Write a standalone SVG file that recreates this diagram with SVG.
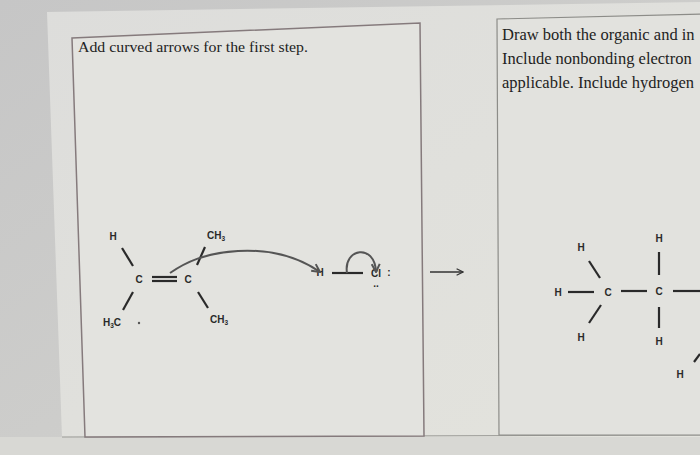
<svg xmlns="http://www.w3.org/2000/svg" width="700" height="455" viewBox="0 0 700 455">
<defs>
<linearGradient id="bg" x1="0" y1="0" x2="1" y2="1">
<stop offset="0" stop-color="#c6c6c6"/>
<stop offset="1" stop-color="#d4d4d0"/>
</linearGradient>
<linearGradient id="panel" x1="0" y1="0" x2="1" y2="1">
<stop offset="0" stop-color="#dddddb"/>
<stop offset="1" stop-color="#e3e3dd"/>
</linearGradient>
<marker id="head" viewBox="0 0 10 10" refX="9" refY="5" markerWidth="10" markerHeight="10" orient="auto" markerUnits="userSpaceOnUse">
<path d="M1,1 L9,5 L1,9" fill="none" stroke="#555" stroke-width="2"/>
</marker>
<marker id="rhead" viewBox="0 0 10 10" refX="9" refY="5" markerWidth="8" markerHeight="8" orient="auto" markerUnits="userSpaceOnUse">
<path d="M1,1 L9,5 L1,9" fill="none" stroke="#333" stroke-width="1.5"/>
</marker>
</defs>
<style>
.box{fill:#e3e3df;stroke:#857a7c;stroke-width:1.5}
.rbox{fill:#e2e2de;stroke:#8c8c88;stroke-width:1.2}
.q{font-family:"Liberation Serif",serif;fill:#222}
.lbl{font-family:"Liberation Sans",Arial,sans-serif;font-weight:bold;font-size:10px;fill:#2a2a2a}
.bond{stroke:#2a2a2a;stroke-width:2.2;stroke-linecap:butt}
.arrow{fill:none;stroke:#555;stroke-width:2}
</style>
<rect width="700" height="455" fill="url(#bg)"/>
<polygon points="47,12 700,2 700,437 62,437" fill="url(#panel)"/>
<rect x="0" y="437" width="700" height="18" fill="#d8d8d4"/>
<line x1="62" y1="437" x2="700" y2="435" stroke="#9a9a96" stroke-width="1"/>

<g id="left-box">
<polygon class="box" points="72,38 420,23 424,436 85,437"/>
<text class="q" x="78" y="52" font-size="15.5" textLength="230" lengthAdjust="spacingAndGlyphs">Add curved arrows for the first step.</text>
</g>

<g id="right-box">
<polygon class="rbox" points="497,19 702,14 702,435 499,435"/>
<text class="q" x="502" y="40" font-size="16.5">Draw both the organic and in</text>
<text class="q" x="502" y="64" font-size="16.5">Include nonbonding electron</text>
<text class="q" x="502" y="88" font-size="16.5">applicable. Include hydrogen</text>
</g>

<g id="reactant">
<text class="lbl" x="113" y="240" text-anchor="middle">H</text>
<line class="bond" x1="122" y1="248" x2="133" y2="266"/>
<text class="lbl" x="139" y="283" text-anchor="middle">C</text>
<line class="bond" x1="152" y1="277" x2="177" y2="277"/>
<line class="bond" x1="152" y1="281" x2="177" y2="281"/>
<text class="lbl" x="188" y="283" text-anchor="middle">C</text>
<line class="bond" x1="133" y1="292" x2="123" y2="310"/>
<text class="lbl" x="103" y="326">H<tspan font-size="6.5" dy="2">3</tspan><tspan dy="-2">C</tspan></text>
<circle cx="139" cy="323" r="1.2" fill="#555"/>
<line class="bond" x1="205" y1="247" x2="197" y2="265"/>
<text class="lbl" x="207" y="239">CH<tspan font-size="6.5" dy="2">3</tspan></text>
<line class="bond" x1="198" y1="292" x2="208" y2="308"/>
<text class="lbl" x="210" y="323">CH<tspan font-size="6.5" dy="2">3</tspan></text>
</g>

<g id="hcl">
<text class="lbl" x="320" y="276" text-anchor="middle" font-size="7">H</text>
<line class="bond" x1="332" y1="273" x2="363" y2="273"/>
<text class="lbl" x="376" y="277" text-anchor="middle" font-size="10">Cl</text>
<text class="lbl" x="389" y="276" text-anchor="middle" font-size="10">:</text>
<text class="lbl" x="376" y="287" text-anchor="middle" font-size="9">..</text>
</g>

<g id="connectors">
<path class="arrow" d="M170,273 C186,262 205,253 238,251 C275,249 300,258 320,272" marker-end="url(#head)"/>
<path class="arrow" d="M347,273 C343,248 375,243 376,272" marker-end="url(#head)"/>
<line x1="430" y1="272" x2="463" y2="272" stroke="#333" stroke-width="1.6" marker-end="url(#rhead)"/>
</g>

<g id="product">
<text class="lbl" x="581" y="251" text-anchor="middle">H</text>
<line class="bond" x1="589" y1="261" x2="600" y2="278"/>
<text class="lbl" x="558" y="296" text-anchor="middle">H</text>
<line class="bond" x1="568" y1="292" x2="594" y2="292"/>
<text class="lbl" x="608" y="296" text-anchor="middle">C</text>
<line class="bond" x1="621" y1="291" x2="647" y2="291"/>
<text class="lbl" x="659" y="295" text-anchor="middle">C</text>
<line class="bond" x1="673" y1="291" x2="700" y2="291"/>
<line class="bond" x1="601" y1="305" x2="589" y2="323"/>
<text class="lbl" x="581" y="341" text-anchor="middle">H</text>
<text class="lbl" x="659" y="242" text-anchor="middle">H</text>
<line class="bond" x1="659" y1="252" x2="659" y2="275"/>
<line class="bond" x1="659" y1="307" x2="659" y2="328"/>
<text class="lbl" x="659" y="345" text-anchor="middle">H</text>
<line class="bond" x1="694" y1="362" x2="700" y2="354"/>
<text class="lbl" x="680" y="378" text-anchor="middle">H</text>
</g>
</svg>
